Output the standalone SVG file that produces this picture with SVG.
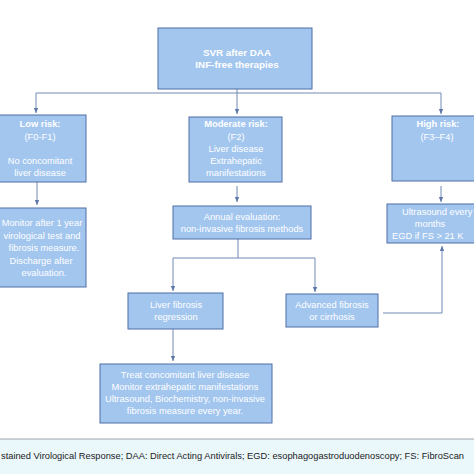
<svg xmlns="http://www.w3.org/2000/svg" width="474" height="474" viewBox="0 0 474 474">
<defs>
<style>
.box{fill:#a3c6ef;stroke:#4f6fa6;stroke-width:1}
.t{font-family:"Liberation Sans",Arial,sans-serif;font-size:9.3px;fill:#ffffff;text-anchor:middle;dominant-baseline:central}
.b{font-weight:bold}
.big{font-size:9.8px}
.c{fill:none;stroke:#7189b3;stroke-width:1}
.cap{font-family:"Liberation Sans",Arial,sans-serif;font-size:9.5px;fill:#222222;dominant-baseline:central}
</style>
<marker id="ah" markerWidth="6" markerHeight="6" refX="5" refY="3" orient="auto" markerUnits="userSpaceOnUse">
<path d="M0,0.8 L5,3 L0,5.2 Z" fill="#5c76a6"/>
</marker>
</defs>
<rect width="474" height="474" fill="#ffffff"/>
<g id="connectors">
<path class="c" d="M237,89 V93"/>
<path class="c" d="M36,93 H441"/>
<path class="c" d="M36,93 V113" marker-end="url(#ah)"/>
<path class="c" d="M237,93 V114" marker-end="url(#ah)"/>
<path class="c" d="M441,93 V114" marker-end="url(#ah)"/>
<path class="c" d="M37,182 V205" marker-end="url(#ah)"/>
<path class="c" d="M237,186 V202" marker-end="url(#ah)"/>
<path class="c" d="M441,186 V202" marker-end="url(#ah)"/>
<path class="c" d="M238,239 V258"/>
<path class="c" d="M173,258 H315"/>
<path class="c" d="M173,258 V291" marker-end="url(#ah)"/>
<path class="c" d="M315,258 V292" marker-end="url(#ah)"/>
<path class="c" d="M173,329 V361" marker-end="url(#ah)"/>
<path class="c" d="M383,313 H442 V246" marker-end="url(#ah)"/>
</g>
<g id="node-svr">
<rect class="box" x="158" y="28" width="154" height="61"/>
<text class="t b big" x="237" y="52">SVR after DAA</text>
<text class="t b big" x="237" y="64">INF-free therapies</text>
</g>
<g id="node-low">
<rect class="box" x="-10" y="115" width="96" height="67"/>
<text class="t b" x="40" y="124">Low risk:</text>
<text class="t" x="40" y="137">(F0-F1)</text>
<text class="t" x="40" y="161">No concomitant</text>
<text class="t" x="40" y="173">liver disease</text>
</g>
<g id="node-moderate">
<rect class="box" x="189" y="117" width="93" height="65"/>
<text class="t b" x="236" y="124">Moderate risk:</text>
<text class="t" x="236" y="137">(F2)</text>
<text class="t" x="236" y="149">Liver disease</text>
<text class="t" x="236" y="161">Extrahepatic</text>
<text class="t" x="236" y="173">manifestations</text>
</g>
<g id="node-high">
<rect class="box" x="392" y="116" width="92" height="65"/>
<text class="t b" x="438" y="124">High risk:</text>
<text class="t" x="437" y="137">(F3–F4)</text>
</g>
<g id="node-monitor">
<rect class="box" x="-10" y="208" width="96" height="79"/>
<text class="t" x="42" y="223">Monitor after 1 year</text>
<text class="t" x="42" y="236">virological test and</text>
<text class="t" x="44" y="248">fibrosis measure.</text>
<text class="t" x="41" y="261">Discharge after</text>
<text class="t" x="44" y="273">evaluation.</text>
</g>
<g id="node-annual">
<rect class="box" x="173" y="206" width="138" height="33"/>
<text class="t" x="242" y="217">Annual evaluation:</text>
<text class="t" x="242" y="229">non-invasive fibrosis methods</text>
</g>
<g id="node-ultrasound">
<rect class="box" x="387" y="204" width="95" height="39"/>
<text class="t" x="402" y="212" style="text-anchor:start">Ultrasound every</text>
<text class="t" x="430" y="224">months</text>
<text class="t" x="392" y="236" style="text-anchor:start">EGD if FS &gt; 21 K</text>
</g>
<g id="node-regression">
<rect class="box" x="128" y="293" width="95" height="36"/>
<text class="t" x="176" y="305">Liver fibrosis</text>
<text class="t" x="176" y="317">regression</text>
</g>
<g id="node-advanced">
<rect class="box" x="286" y="294" width="92" height="33"/>
<text class="t" x="332" y="305">Advanced fibrosis</text>
<text class="t" x="332" y="317">or cirrhosis</text>
</g>
<g id="node-treat">
<rect class="box" x="100" y="364" width="172" height="59"/>
<text class="t" x="185" y="375">Treat concomitant liver disease</text>
<text class="t" x="185" y="387">Monitor extrahepatic manifestations</text>
<text class="t" x="185" y="399">Ultrasound, Biochemistry, non-invasive</text>
<text class="t" x="185" y="411">fibrosis measure every year.</text>
</g>
<g id="caption">
<rect x="0" y="439" width="474" height="35" fill="#eaf7fb"/>
<path d="M0,439 H474" stroke="#9aa6ae" stroke-width="1"/>
<text class="cap" x="1" y="455" textLength="463" lengthAdjust="spacingAndGlyphs">stained Virological Response; DAA: Direct Acting Antivirals; EGD: esophagogastroduodenoscopy; FS: FibroScan</text>
</g>
</svg>
